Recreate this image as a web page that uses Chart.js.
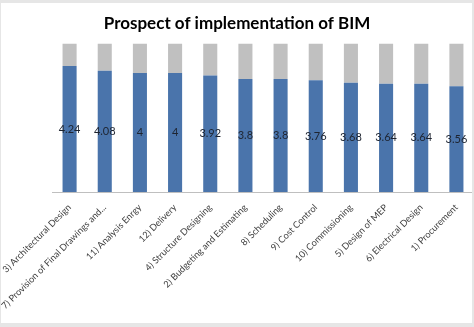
<!DOCTYPE html>
<html>
<head>
<meta charset="utf-8">
<script src="https://cdn.jsdelivr.net/npm/chart.js@4.4.1/dist/chart.umd.min.js"></script>
<style>
  html, body { margin: 0; padding: 0; background: #fff; }
  #wrap { position: relative; width: 474px; height: 327px; }
  #frame {
    position: absolute; left: 0; top: 0; right: 0; bottom: 0;
    border-style: solid; border-color: #e6e6e6;
    border-width: 3px 2px 4px 1px;
    pointer-events: none;
  }
</style>
</head>
<body>
<div id="wrap">
  <canvas id="bimChart" width="474" height="327"></canvas>
  <div id="frame"></div>
</div>
<script>
const categories = [
  "3) Architectural Design",
  "7) Provision of Final Drawings and...",
  "11) Analysis Enrgy",
  "12) Delivery",
  "4) Structure Designing",
  "2) Budgeting and Estimating",
  "8) Scheduling",
  "9) Cost Control",
  "10) Commissioning",
  "5) Design of MEP",
  "6) Electrical Design",
  "1) Procurement"
];
const meanScores = [4.24, 4.08, 4, 4, 3.92, 3.8, 3.8, 3.76, 3.68, 3.64, 3.64, 3.56];
const scaleMax = 5;
// grey part fills each bar up to the top of the scale
const remainder = meanScores.map(v => +(scaleMax - v).toFixed(2));

// draws the score in the middle of each blue bar
const centreLabels = {
  id: "centreLabels",
  afterDatasetsDraw(chart) {
    const ctx = chart.ctx;
    const meta = chart.getDatasetMeta(0);
    ctx.save();
    ctx.font = "11px Lato, 'Open Sans', sans-serif";
    ctx.fillStyle = "#1e2430";
    ctx.textAlign = "center";
    ctx.textBaseline = "middle";
    meta.data.forEach((bar, i) => {
      const mid = (bar.y + bar.base) / 2;
      ctx.fillText(String(meanScores[i]), bar.x, mid);
    });
    ctx.restore();
  }
};

new Chart(document.getElementById("bimChart"), {
  type: "bar",
  data: {
    labels: categories,
    datasets: [
      {
        label: "Mean",
        data: meanScores,
        backgroundColor: "#4a74ab",
        barPercentage: 0.4,
        categoryPercentage: 1
      },
      {
        label: "Rest",
        data: remainder,
        backgroundColor: "#c0c0c0",
        barPercentage: 0.4,
        categoryPercentage: 1
      }
    ]
  },
  options: {
    responsive: false,
    animation: false,
    layout: { padding: { left: 0, right: 0, top: 0, bottom: 4 } },
    plugins: {
      legend: { display: false },
      tooltip: { enabled: false },
      title: {
        display: true,
        text: "Prospect of implementation of BIM",
        color: "#000",
        font: { family: "Lato, 'Open Sans', sans-serif", size: 17, weight: "bold" },
        padding: { top: 13, bottom: 10 }
      }
    },
    scales: {
      x: {
        stacked: true,
        grid: { display: false },
        border: { display: true, color: "#bfbfbf", width: 1 },
        ticks: {
          autoSkip: false,
          maxRotation: 45,
          minRotation: 45,
          padding: 2,
          color: "#404040",
          font: { family: "Lato, 'Open Sans', sans-serif", size: 9.2 }
        },
        afterFit(scale) {
          scale.paddingLeft = 0;
          scale.paddingRight = 0;
          scale.height = 131;
        }
      },
      y: {
        stacked: true,
        min: 0,
        max: scaleMax,
        grid: { display: false },
        border: { display: false },
        ticks: { display: false },
        afterFit(scale) {
          scale.width = 52;
        }
      }
    }
  },
  plugins: [centreLabels]
});
</script>
</body>
</html>
